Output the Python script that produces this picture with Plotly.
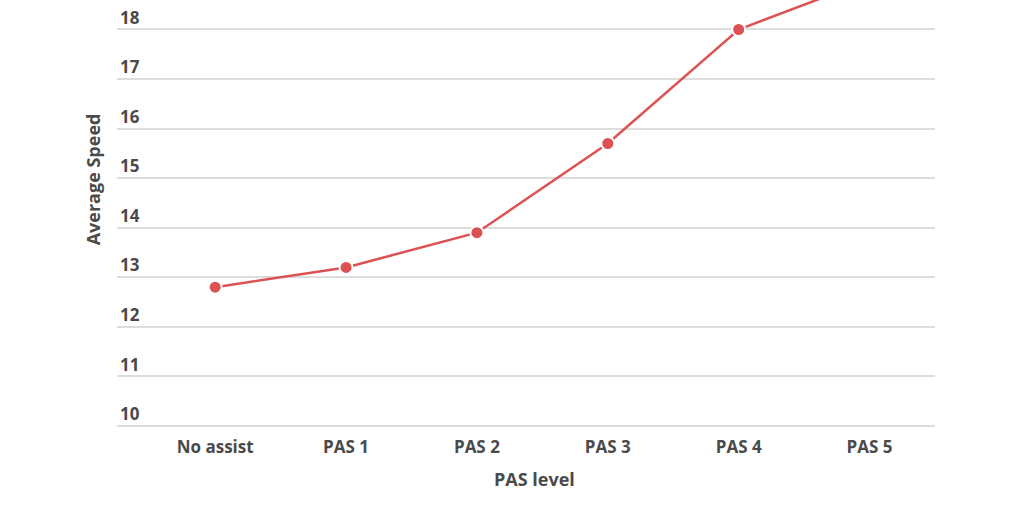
import plotly.graph_objects as go

levels = ["No assist", "PAS 1", "PAS 2", "PAS 3", "PAS 4", "PAS 5"]
avg_speed = [12.8, 13.2, 13.9, 15.7, 18.0, 19.0]
y_ticks = [10, 11, 12, 13, 14, 15, 16, 17, 18]

FONT = "Open Sans"
TEXT_COLOR = "#4a4a4a"
LINE_COLOR = "#dc5252"

fig = go.Figure()

fig.add_trace(go.Scatter(
    x=list(range(len(levels))),
    y=avg_speed,
    mode="lines+markers",
    line=dict(color=LINE_COLOR, width=2.5),
    marker=dict(size=13, color=LINE_COLOR, line=dict(color="white", width=2)),
    cliponaxis=True,
    hoverinfo="skip",
))

fig.update_layout(
    width=1024,
    height=512,
    margin=dict(l=117, r=89, t=0, b=84),
    paper_bgcolor="white",
    plot_bgcolor="white",
    showlegend=False,
    font=dict(family=FONT, size=17, color=TEXT_COLOR),
)

fig.update_xaxes(
    range=[-0.75, 5.5],
    tickvals=list(range(len(levels))),
    ticktext=levels,
    showgrid=False,
    zeroline=False,
    showline=False,
    ticks="",
    ticklabelstandoff=7,
    tickfont=dict(family=FONT, size=17, color=TEXT_COLOR, weight="bold"),
)

fig.update_yaxes(
    range=[9.96, 18.595],
    tickvals=y_ticks,
    ticklabelposition="inside top",
    showgrid=True,
    gridcolor="#dddddd",
    gridwidth=1.5,
    zeroline=False,
    showline=False,
    ticks="",
    tickfont=dict(family=FONT, size=17, color=TEXT_COLOR, weight="bold"),
)

# axis titles placed by hand to match the source layout
fig.add_annotation(
    text="Average Speed", textangle=-90,
    xref="paper", yref="paper", x=-0.03, y=0.582,
    xanchor="center", yanchor="middle", showarrow=False,
    font=dict(family=FONT, size=18, color=TEXT_COLOR, weight="bold"),
)
fig.add_annotation(
    text="PAS level",
    xref="paper", yref="paper", x=0.51, y=-0.12,
    xanchor="center", yanchor="middle", showarrow=False,
    font=dict(family=FONT, size=18, color=TEXT_COLOR, weight="bold"),
)

# drop the default page margin so the figure sits at the window origin
fig.write_html(
    "out.html",
    config={"displayModeBar": False},
    post_script="document.body.style.margin='0';",
)
